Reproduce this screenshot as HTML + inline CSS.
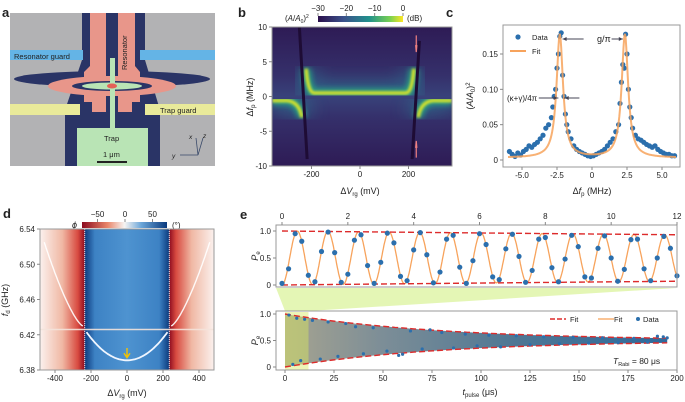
<!DOCTYPE html>
<html><head><meta charset="utf-8"><style>
html,body{margin:0;padding:0;background:#fff}
svg{display:block;font-family:"Liberation Sans",sans-serif}
text{fill:#222}
</style></head><body>
<svg id="fig" width="685" height="402" viewBox="0 0 685 402">
<defs>
<linearGradient id="cbB" x1="0" x2="1"><stop offset="0" stop-color="#2b0f4c"/><stop offset="0.3" stop-color="#3b518b"/><stop offset="0.6" stop-color="#21918c"/><stop offset="0.85" stop-color="#7ad151"/><stop offset="1" stop-color="#fde725"/></linearGradient>
<linearGradient id="cbD" x1="0" x2="1"><stop offset="0" stop-color="#8b0a1e"/><stop offset="0.3" stop-color="#e9866a"/><stop offset="0.5" stop-color="#f7f4f2"/><stop offset="0.7" stop-color="#6aa5d8"/><stop offset="1" stop-color="#0a3a7e"/></linearGradient>
<linearGradient id="bgB" x1="0" y1="0" x2="0" y2="1"><stop offset="0" stop-color="#2e1b55"/><stop offset="0.35" stop-color="#35306b"/><stop offset="0.5" stop-color="#38427a"/><stop offset="0.65" stop-color="#35306b"/><stop offset="1" stop-color="#2e1b55"/></linearGradient>
<linearGradient id="redL" x1="0" x2="1"><stop offset="0" stop-color="#fbf1ee"/><stop offset="0.5" stop-color="#f0b8a4"/><stop offset="0.85" stop-color="#d84a40"/><stop offset="1" stop-color="#8e0c1f"/></linearGradient>
<linearGradient id="redR" x1="1" x2="0"><stop offset="0" stop-color="#fbf1ee"/><stop offset="0.5" stop-color="#f0b8a4"/><stop offset="0.85" stop-color="#d84a40"/><stop offset="1" stop-color="#8e0c1f"/></linearGradient>
<linearGradient id="blueM" x1="0" x2="1"><stop offset="0" stop-color="#0b3a7d"/><stop offset="0.12" stop-color="#3d82c4"/><stop offset="0.5" stop-color="#4e93d0"/><stop offset="0.88" stop-color="#3d82c4"/><stop offset="1" stop-color="#0b3a7d"/></linearGradient>
<linearGradient id="cloud" x1="0" x2="1"><stop offset="0" stop-color="#a7a490"/><stop offset="0.25" stop-color="#7d8e97"/><stop offset="0.6" stop-color="#4f7794"/><stop offset="1" stop-color="#2f6a9c"/></linearGradient>
<filter id="blur1"><feGaussianBlur stdDeviation="1.2"/></filter>
<filter id="blur3"><feGaussianBlur stdDeviation="3"/></filter>
<filter id="blur8"><feGaussianBlur stdDeviation="8"/></filter>
<clipPath id="clipB"><rect x="272" y="27" width="180" height="139"/></clipPath>
</defs>

<!-- Panel a -->
<g>
<text x="2" y="17" font-size="13" font-weight="bold">a</text>
<rect x="10" y="13" width="205" height="153" fill="#b2b2b4"/>
<polygon points="82,13 145,13 145,60 160,110 160,166 65,166 65,110 82,60" fill="#2a3466"/>
<ellipse cx="112" cy="79" rx="98" ry="8" fill="#2a3466"/>
<ellipse cx="112" cy="86" rx="64" ry="10" fill="#e8968a"/>
<polygon points="90,13 106,13 106,76 118,76 118,13 135,13 135,66 140,72 140,102 132,102 132,112 118,112 118,96 106,96 106,112 92,112 92,102 84,102 84,72 90,66" fill="#e8968a"/>
<ellipse cx="112" cy="86" rx="40" ry="5" fill="#2a3466"/>
<ellipse cx="112" cy="86" rx="30" ry="3.5" fill="#b9e4b5"/>
<rect x="110" y="58" width="5" height="75" fill="#b9e4b5"/>
<rect x="77" y="128" width="71" height="38" fill="#b9e4b5"/>
<ellipse cx="112" cy="86" rx="5" ry="2.5" fill="#f04040" opacity="0.8"/>
<rect x="10" y="50" width="73" height="10" fill="#64b4e6"/><rect x="140" y="50" width="75" height="10" fill="#64b4e6"/>
<rect x="10" y="104" width="70" height="11" fill="#e9ea9a"/><rect x="145" y="104" width="70" height="11" fill="#e9ea9a"/>
<text x="14" y="59" font-size="7.5">Resonator guard</text>
<text x="127" y="70" font-size="7.5" transform="rotate(-90 127 70)">Resonator</text>
<text x="160" y="113" font-size="7.5">Trap guard</text>
<text x="104" y="141" font-size="7.5">Trap</text>
<text x="103" y="157" font-size="7.5">1 μm</text>
<rect x="97" y="161" width="30" height="2" fill="#222"/>
<g stroke="#3a4a6a" stroke-width="0.8" fill="none"><path d="M198 155 L180 155 M198 155 L196 138 M198 155 L203 138"/></g>
<text x="172" y="158" font-size="6.5" font-style="italic">y</text><text x="189" y="139" font-size="6.5" font-style="italic">x</text><text x="203" y="138" font-size="6.5" font-style="italic">z</text>
</g>

<!-- Panel b -->
<g id="pb">
<text x="238" y="17" font-size="13" font-weight="bold">b</text>
<rect x="318" y="16" width="85" height="6" fill="url(#cbB)"/>
<text x="285" y="21" font-size="8">(<tspan font-style="italic">A</tspan>/<tspan font-style="italic">A</tspan><tspan font-size="5" dy="2">0</tspan><tspan dy="-2">)</tspan><tspan font-size="5" dy="-3">2</tspan></text>
<text x="407" y="21" font-size="8">(dB)</text>
</g>

<!-- Panel c -->
<g id="pc">
<text x="446" y="17" font-size="13" font-weight="bold">c</text>
</g>

<!-- Panel d -->
<g id="pd">
<text x="3" y="218" font-size="13" font-weight="bold">d</text>
<rect x="82" y="222" width="85" height="6" fill="url(#cbD)"/>
<text x="72" y="228" font-size="9" font-style="italic">ϕ</text>
<text x="172" y="228" font-size="8">(°)</text>
</g>

<!-- Panel e -->
<g id="pe">
<text x="240" y="219" font-size="13" font-weight="bold">e</text>
</g>
</svg>
<script>
const NS="http://www.w3.org/2000/svg";
function mk(parent,tag,attrs,txt){const e=document.createElementNS(NS,tag);for(const k in attrs)e.setAttribute(k,attrs[k]);if(txt!==undefined)e.textContent=txt;parent.appendChild(e);return e;}

/* ---------- data arrays ---------- */
// panel b
const bXTicks=[-200,0,200];
const bYTicks=[-10,-5,0,5,10];
const bCbTicks=[-30,-20,-10,0];
// panel c
const cX=[-5.9,-5.7,-5.5,-5.3,-5.1,-4.9,-4.7,-4.5,-4.3,-4.1,-3.9,-3.7,-3.5,-3.3,-3.1,
-2.9,-2.8,-2.7,-2.6,-2.5,-2.4,-2.3,-2.2,-2.1,-2.0,-1.9,-1.8,-1.7,
-1.5,-1.3,-1.1,-0.9,-0.7,-0.5,-0.3,-0.1,0.1,0.3,0.5,0.7,0.9,1.1,1.3,1.5,1.7,1.9,
2.0,2.1,2.2,2.3,2.4,2.5,2.6,2.7,2.8,2.9,
3.1,3.3,3.5,3.7,3.9,4.1,4.3,4.5,4.7,4.9,5.1,5.3,5.5,5.7,5.9];
const cY=[0.012,0.008,0.005,0.01,0.007,0.012,0.015,0.02,0.018,0.022,0.025,0.03,0.035,0.045,0.05,
0.06,0.075,0.09,0.1,0.13,0.15,0.175,0.18,0.12,0.09,0.065,0.05,0.04,
0.03,0.02,0.015,0.012,0.01,0.008,0.006,0.005,0.006,0.008,0.01,0.012,0.015,0.02,0.025,0.03,0.04,0.05,
0.08,0.11,0.135,0.13,0.178,0.15,0.1,0.075,0.06,0.045,
0.035,0.03,0.028,0.025,0.022,0.02,0.018,0.02,0.015,0.012,0.01,0.008,0.008,0.006,0.006];
const cFitCenters=[-2.3,2.35];
const cFitPeak=[0.175,0.175];
const cFitWidth=[0.28,0.28];
const cXTicks=[-5,-2.5,0,2.5,5];
const cXTickLabels=["-5.0","-2.5","0","2.5","5.0"];
const cYTicks=[0,0.05,0.10,0.15];
const cYTickLabels=["0","0.05","0.10","0.15"];
// panel d
const dXTicks=[-400,-200,0,200,400];
const dYTicks=[6.38,6.42,6.46,6.50,6.54];
const dCbTicks=[-50,0,50];
// panel e top
const eTopPe=[0.03,0.3,0.95,0.81,0.18,0.06,0.62,0.98,0.6,0.05,0.2,0.83,0.93,0.36,0.03,0.42,0.96,0.78,0.16,0.08,
0.65,0.97,0.56,0.04,0.24,0.85,0.92,0.33,0.03,0.45,0.95,0.75,0.15,0.1,0.67,0.94,0.53,0.05,0.27,0.85,
0.88,0.32,0.06,0.48,0.92,0.71,0.15,0.13,0.68,0.91,0.5,0.07,0.29,0.84,0.85,0.3,0.08,0.5,0.9,0.68,0.17];
const eTopStep=0.2;
const eTopTicks=[0,2,4,6,8,10,12];
const eYTicks=[0,0.5,1.0];
const eYTickLabels=["0","0.5","1.0"];
const ePeriod=[0.93];
const eTRabi=[80];
// panel e bottom (outlier sample)
const eBotT=[2,4,6,8,10,14,18,22,27,31,36,40,45,52,58,60,64,70,74,80,86,92,98,104,110,118,125,132,140,147,155,162,170,178,185,190,193,195];
const eBotPe=[0.98,0.05,0.92,0.12,0.9,0.88,0.15,0.85,0.2,0.82,0.76,0.25,0.74,0.3,0.22,0.24,0.68,0.34,0.7,0.65,0.36,0.62,0.4,0.6,0.38,0.59,0.42,0.57,0.44,0.56,0.45,0.55,0.46,0.54,0.47,0.58,0.57,0.55];
const eBotTicks=[0,25,50,75,100,125,150,175,200];

/* ---------- helpers ---------- */
function lin(d0,d1,r0,r1){return v=>r0+(v-d0)*(r1-r0)/(d1-d0);}
function frame(g,x0,y0,x1,y1,name){const r=mk(g,'rect',{x:x0,y:y0,width:x1-x0,height:y1-y0,fill:'none',stroke:'#999','stroke-width':1});}
function xtick(g,x,y,lab,up){mk(g,'line',{x1:x,x2:x,y1:y,y2:y+(up?-3:3),stroke:'#888'});const t=mk(g,'text',{x:x,y:up?y-6:y+11,'font-size':8,'text-anchor':'middle'},lab);}
function ytick(g,x,y,lab){mk(g,'line',{x1:x,x2:x-3,y1:y,y2:y,stroke:'#888'});const t=mk(g,'text',{x:x-5,y:y+3,'font-size':8,'text-anchor':'end'},lab);}

/* ---------- panel b ---------- */
(function(){
const g=document.getElementById('pb');
const X0=272,X1=452,Y0=27,Y1=166;
const sx=lin(0,200,360,408.5), sy=lin(10,-10,Y0,Y1);
const c=mk(g,'g',{'clip-path':'url(#clipB)'});
mk(c,'rect',{x:X0,y:Y0,width:X1-X0,height:Y1-Y0,fill:'url(#bgB)'});
// resonator line path (middle + sides)
const mid=`M${sx(-222)} ${sy(4)} Q${sx(-215)} ${sy(0.6)} ${sx(-190)} ${sy(0.5)} L${sx(190)} ${sy(0.5)} Q${sx(215)} ${sy(0.6)} ${sx(222)} ${sy(4)}`;
const side=`M${X0} ${sy(-0.6)} L${sx(-300)} ${sy(-0.6)} Q${sx(-250)} ${sy(-0.8)} ${sx(-240)} ${sy(-3)} M${X1} ${sy(-0.6)} L${sx(300)} ${sy(-0.6)} Q${sx(250)} ${sy(-0.8)} ${sx(240)} ${sy(-3)}`;
[[mid,0],[side,0]].forEach(([d])=>{
mk(c,'path',{d:d,stroke:'#2f6f8e','stroke-width':26,fill:'none',opacity:0.55,filter:'url(#blur8)'});
mk(c,'path',{d:d,stroke:'#26a884','stroke-width':9,fill:'none',opacity:0.9,filter:'url(#blur3)'});
mk(c,'path',{d:d,stroke:'#d8e22a','stroke-width':3.5,fill:'none',filter:'url(#blur1)'});
});
// dark diagonals
mk(c,'path',{d:`M${sx(-250)} ${sy(10)} L${sx(-218)} ${sy(-9)} M${sx(245)} ${sy(8)} L${sx(215)} ${sy(-9)}`,stroke:'#1e0c35','stroke-width':3,fill:'none'});
// arrows
const ar=mk(g,'path',{d:`M${sx(232)} ${sy(8.8)} L${sx(232)} ${sy(6.6)} M${sx(229.5)} ${sy(7.4)} L${sx(232)} ${sy(6.4)} L${sx(234.5)} ${sy(7.4)} M${sx(232)} ${sy(-8.8)} L${sx(232)} ${sy(-6.6)} M${sx(229.5)} ${sy(-7.4)} L${sx(232)} ${sy(-6.4)} L${sx(234.5)} ${sy(-7.4)}`,stroke:'#f08080','stroke-width':1.2,fill:'none'});

frame(g,X0,Y0,X1,Y1,'plot-area-b');
bXTicks.forEach(v=>xtick(g,sx(v),Y1,String(v)));
bYTicks.forEach(v=>ytick(g,X0,sy(v),String(v)));
const cbx=lin(-30,0,318,403);
bCbTicks.forEach(v=>{mk(g,'line',{x1:cbx(v),x2:cbx(v),y1:16,y2:13,stroke:'#888'});const t=mk(g,'text',{x:cbx(v),y:11,'font-size':8,'text-anchor':'middle'},v<0?'−'+(-v):String(v));});
const xl=mk(g,'text',{x:360,y:194,'font-size':9,'text-anchor':'middle'});xl.innerHTML='Δ<tspan font-style="italic">V</tspan><tspan font-size="6" dy="2">rg</tspan><tspan dy="-2"> (mV)</tspan>';

const yl=mk(g,'text',{x:253,y:97,'font-size':9,'text-anchor':'middle',transform:'rotate(-90 253 97)'});yl.innerHTML='Δ<tspan font-style="italic">f</tspan><tspan font-size="6" dy="2">p</tspan><tspan dy="-2"> (MHz)</tspan>';

})();

/* ---------- panel c ---------- */
(function(){
const g=document.getElementById('pc');
const X0=503,X1=680,Y0=25,Y1=167;
const sx=lin(0,5,592,662), sy=lin(0,0.15,160,54);
frame(g,X0,Y0,X1,Y1,'plot-area-c');
cXTicks.forEach((v,i)=>xtick(g,sx(v),Y1,cXTickLabels[i]));
cYTicks.forEach((v,i)=>ytick(g,X0,sy(v),cYTickLabels[i]));
for(let i=0;i<Math.min(cX.length,cY.length);i++){const c=mk(g,'circle',{cx:sx(cX[i]),cy:sy(cY[i]),r:2.6,fill:'#2b6fad'});
}
let d='';for(let k=0;k<=240;k++){const x=-6+12*k/240;let y=0.003;for(let j=0;j<cFitCenters.length;j++){const u=(x-cFitCenters[j])/cFitWidth[j];y+=cFitPeak[j]/(1+u*u);}d+=(k?'L':'M')+sx(x).toFixed(1)+' '+sy(y).toFixed(1);}
const fit=mk(g,'path',{d:d,stroke:'#f7a35c','stroke-width':2,fill:'none',opacity:0.85});
const lg=mk(g,'g',{});
mk(lg,'circle',{cx:518,cy:37,r:2.6,fill:'#2b6fad'});mk(lg,'text',{x:532,y:40,'font-size':7.5},'Data');
mk(lg,'line',{x1:510,x2:526,y1:51,y2:51,stroke:'#f7a35c','stroke-width':2});mk(lg,'text',{x:532,y:54,'font-size':7.5},'Fit');
mk(g,'path',{d:`M${sx(-2.1)} 39 L${sx(-0.6)} 39 M${sx(2.2)} 39 L${sx(1.4)} 39 M${sx(-2.4)} 98 L${sx(-3.8)} 98 M${sx(-2.0)} 98 L${sx(-0.9)} 98`,stroke:'#445','stroke-width':1});
mk(g,'path',{d:`M${sx(-2.1)} 39 l4 -2 v4z M${sx(2.2)} 39 l-4 -2 v4z M${sx(-2.45)} 98 l-4 -2 v4z M${sx(-1.95)} 98 l4 -2 v4z`,fill:'#445'});
const g1=mk(g,'text',{x:597,y:42,'font-size':9},'g/π');
const g2=mk(g,'text',{x:507,y:101,'font-size':8},'(κ+γ)/4π');
const xl=mk(g,'text',{x:592,y:194,'font-size':9,'text-anchor':'middle'});xl.innerHTML='Δ<tspan font-style="italic">f</tspan><tspan font-size="6" dy="2">p</tspan><tspan dy="-2"> (MHz)</tspan>';

const yl=mk(g,'text',{x:473,y:96,'font-size':9,'text-anchor':'middle',transform:'rotate(-90 473 96)'});yl.innerHTML='(<tspan font-style="italic">A</tspan>/<tspan font-style="italic">A</tspan><tspan font-size="6" dy="2">0</tspan><tspan dy="-2">)</tspan><tspan font-size="6" dy="-3">2</tspan>';

})();

/* ---------- panel d ---------- */
(function(){
const g=document.getElementById('pd');
const X0=40,X1=214,Y0=229,Y1=370;
const sx=lin(0,400,127,199), sy=lin(6.38,6.54,370,229);
mk(g,'rect',{x:X0,y:Y0,width:sx(-235)-X0,height:Y1-Y0,fill:'url(#redL)'});
mk(g,'rect',{x:sx(235),y:Y0,width:X1-sx(235),height:Y1-Y0,fill:'url(#redR)'});
mk(g,'rect',{x:sx(-235),y:Y0,width:sx(235)-sx(-235),height:Y1-Y0,fill:'url(#blueM)'});
mk(g,'path',{d:`M${sx(-235)} ${Y0} V${Y1} M${sx(235)} ${Y0} V${Y1}`,stroke:'#e8e8f0','stroke-width':1,'stroke-dasharray':'1 1'});
mk(g,'line',{x1:X0,x2:X1,y1:sy(6.426),y2:sy(6.426),stroke:'#f4e4dc','stroke-width':1.5,opacity:0.9});
let d='';for(let k=0;k<=60;k++){const v=-225+450*k/60;const f=6.391+0.032*(v/225)*(v/225);d+=(k?'L':'M')+sx(v).toFixed(1)+' '+sy(f).toFixed(1);}
const p1=mk(g,'path',{d:d,stroke:'#f0f6ff','stroke-width':1.8,fill:'none'});
[1,-1].forEach(s=>{let d2='';for(let k=0;k<=40;k++){const v=245+215*k/40;const f=6.43+0.095*Math.pow((v-245)/215,1.4);d2+=(k?'L':'M')+sx(s*v).toFixed(1)+' '+sy(f).toFixed(1);}
const p=mk(g,'path',{d:d2,stroke:'#fff','stroke-width':1.4,fill:'none',opacity:0.9});});
const ya=mk(g,'path',{d:`M${sx(0)} ${sy(6.405)} V${sy(6.395)} M${sx(0)-3} ${sy(6.399)} L${sx(0)} ${sy(6.394)} L${sx(0)+3} ${sy(6.399)}`,stroke:'#f5c400','stroke-width':1.4,fill:'none'});

frame(g,X0,Y0,X1,Y1,'plot-area-d');
dXTicks.forEach(v=>xtick(g,sx(v),Y1,String(v)));
dYTicks.forEach(v=>ytick(g,X0,sy(v),v.toFixed(2)));
const cbx=lin(-50,50,97.5,152.5);
dCbTicks.forEach(v=>{mk(g,'line',{x1:cbx(v),x2:cbx(v),y1:222,y2:219,stroke:'#888'});const t=mk(g,'text',{x:cbx(v),y:217,'font-size':8,'text-anchor':'middle'},v<0?'−'+(-v):String(v));});
const xl=mk(g,'text',{x:127,y:396,'font-size':9,'text-anchor':'middle'});xl.innerHTML='Δ<tspan font-style="italic">V</tspan><tspan font-size="6" dy="2">rg</tspan><tspan dy="-2"> (mV)</tspan>';

const yl=mk(g,'text',{x:8,y:300,'font-size':9,'text-anchor':'middle',transform:'rotate(-90 8 300)'});yl.innerHTML='<tspan font-style="italic">f</tspan><tspan font-size="6" dy="2">d</tspan><tspan dy="-2"> (GHz)</tspan>';

})();

/* ---------- panel e ---------- */
(function(){
const g=document.getElementById('pe');
const X0=276,X1=677,T0=225,T1=287,B0=311,B1=370;
const sxT=lin(0,12,282,677), syT=lin(0,1,285,231);
const sxB=lin(0,200,285,677), syB=lin(0,1,367,314);
const tau=eTRabi[0];
const fun=mk(g,'polygon',{points:`${X0},${T1+1} ${X1},${T1+1} ${sxB(12)},${B0} ${sxB(0)},${B0}`,fill:'#dff5a8',opacity:0.85});

const envT=t=>0.5*Math.exp(-(t)/tau);
let up='',lo='';for(let k=0;k<=24;k++){const t=12*k/24;up+=(k?'L':'M')+sxT(t)+' '+syT(0.5+envT(t));lo+=(k?'L':'M')+sxT(t)+' '+syT(0.5-envT(t));}
let fd='';for(let k=0;k<=600;k++){const t=12*k/600;const y=0.5-envT(t)*Math.cos(2*Math.PI*t/ePeriod[0]);fd+=(k?'L':'M')+sxT(t).toFixed(1)+' '+syT(y).toFixed(1);}
const ft=mk(g,'path',{d:fd,stroke:'#f7a35c','stroke-width':1.3,fill:'none'});
mk(g,'path',{d:up+lo,stroke:'#dd2b2b','stroke-width':1.4,fill:'none','stroke-dasharray':'6 3'});
eTopPe.forEach((v,i)=>{const c=mk(g,'circle',{cx:sxT(i*eTopStep),cy:syT(v),r:2.6,fill:'#2b6fad'});});
frame(g,X0,T0,X1,T1,'plot-area-e-top');
eTopTicks.forEach(v=>xtick(g,sxT(v),T0,String(v),true));
eYTicks.forEach((v,i)=>ytick(g,X0,syT(v),eYTickLabels[i]));
const N=80;const pts=[];
for(let k=0;k<=N;k++){const t=195*k/N;pts.push([sxB(t),syB(0.5+0.5*Math.exp(-t/tau))]);}
for(let k=N;k>=0;k--){const t=195*k/N;pts.push([sxB(t),syB(0.5-0.5*Math.exp(-t/tau))]);}
const cl=mk(g,'polygon',{points:pts.map(p=>p[0].toFixed(1)+','+p[1].toFixed(1)).join(' '),fill:'url(#cloud)'});

mk(g,'rect',{x:sxB(0),y:B0+1,width:sxB(12)-sxB(0),height:B1-B0-1,fill:'#d8e860',opacity:0.45});
let ub='',lb='';for(let k=0;k<=N;k++){const t=195*k/N;ub+=(k?'L':'M')+sxB(t).toFixed(1)+' '+syB(0.5+0.5*Math.exp(-t/tau)).toFixed(1);lb+=(k?'L':'M')+sxB(t).toFixed(1)+' '+syB(0.5-0.5*Math.exp(-t/tau)).toFixed(1);}
const eb=mk(g,'path',{d:ub+lb,stroke:'#dd2b2b','stroke-width':1.4,fill:'none','stroke-dasharray':'6 3'});
for(let i=0;i<Math.min(eBotT.length,eBotPe.length);i++){const c=mk(g,'circle',{cx:sxB(eBotT[i]),cy:syB(eBotPe[i]),r:1.6,fill:'#2b6fad'});}
frame(g,X0,B0,X1,B1,'plot-area-e-bottom');
eBotTicks.forEach(v=>xtick(g,sxB(v),B1,String(v)));
eYTicks.forEach((v,i)=>ytick(g,X0,syB(v),eYTickLabels[i]));
const lg=mk(g,'g',{});
mk(lg,'line',{x1:550,x2:566,y1:319,y2:319,stroke:'#dd2b2b','stroke-width':1.4,'stroke-dasharray':'5 2'});mk(lg,'text',{x:570,y:322,'font-size':7.5},'Fit');
mk(lg,'line',{x1:598,x2:614,y1:319,y2:319,stroke:'#f7a35c','stroke-width':1.3});mk(lg,'text',{x:614,y:322,'font-size':7.5},'Fit');
mk(lg,'circle',{cx:638,cy:319,r:2,fill:'#2b6fad'});mk(lg,'text',{x:643,y:322,'font-size':7.5},'Data');
const tr=mk(g,'text',{x:613,y:364,'font-size':8.5});tr.innerHTML='<tspan font-style="italic">T</tspan><tspan font-size="5.5" dy="2">Rabi</tspan><tspan dy="-2"> = 80 μs</tspan>';

const xl=mk(g,'text',{x:480,y:395,'font-size':9,'text-anchor':'middle'});xl.innerHTML='<tspan font-style="italic">t</tspan><tspan font-size="6" dy="2">pulse</tspan><tspan dy="-2"> (μs)</tspan>';

[[258,T0+T1],[258,B0+B1]].forEach(([x,s])=>{const y=s/2;const t=mk(g,'text',{x:x,y:y,'font-size':9,'text-anchor':'middle',transform:`rotate(-90 ${x} ${y})`});t.innerHTML='<tspan font-style="italic">P</tspan><tspan font-size="6" dy="2">e</tspan>';
});
})();
</script>
</body></html>
